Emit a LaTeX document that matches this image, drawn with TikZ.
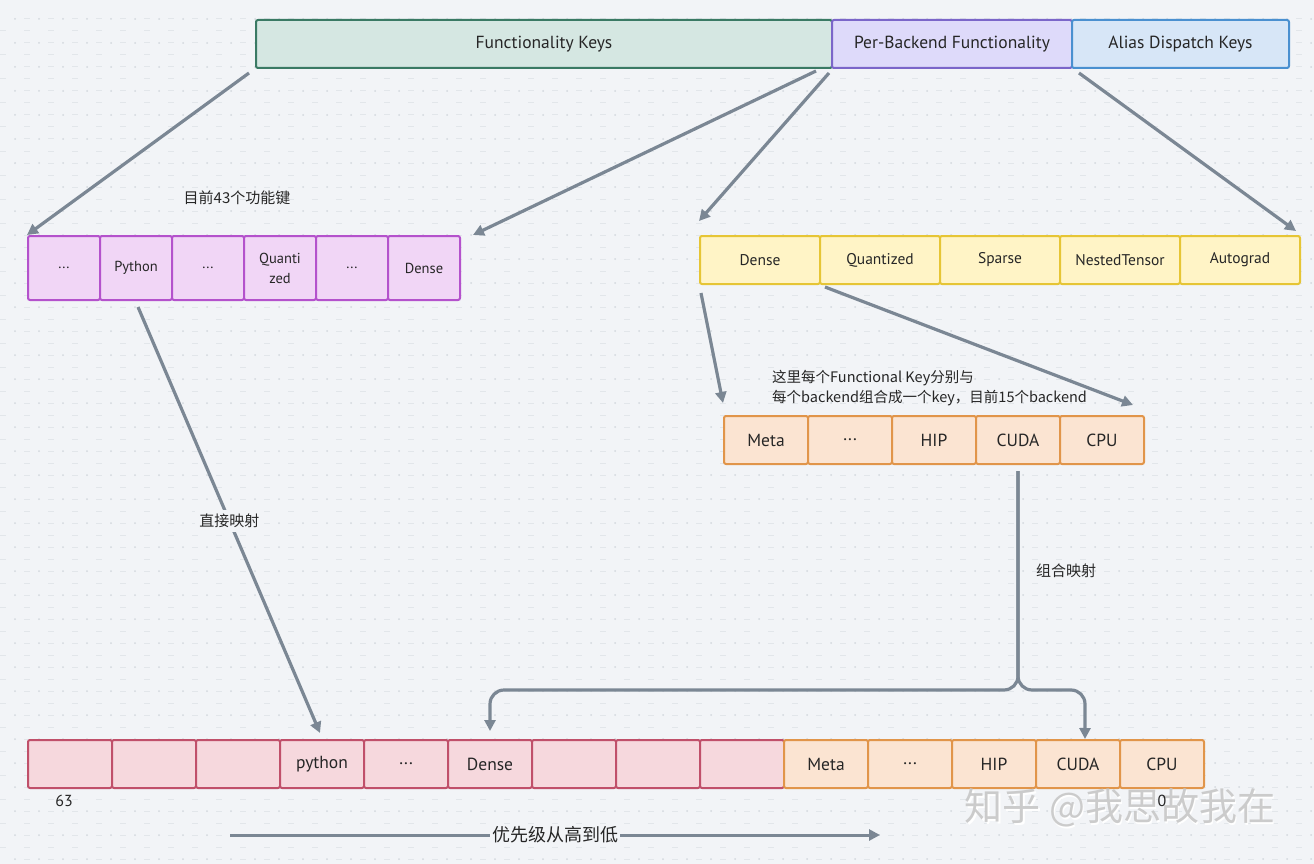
\documentclass[tikz,border=0pt]{standalone}
\usepackage{fontspec}
\setmainfont{PT Sans}
\newfontfamily\cjk{Noto Sans CJK SC}
\usetikzlibrary{arrows.meta,calc}
\definecolor{bgc}{HTML}{F2F4F7}
\definecolor{dotc}{HTML}{D3D8DE}
\definecolor{dotf}{HTML}{E2E6EA}
\definecolor{arrc}{HTML}{7B8794}
\definecolor{txt}{HTML}{262626}
\definecolor{gfill}{HTML}{D5E7E2}\definecolor{gdraw}{HTML}{3A7A64}
\definecolor{pufill}{HTML}{DEDAFA}\definecolor{pudraw}{HTML}{7B66C9}
\definecolor{blfill}{HTML}{D7E6F7}\definecolor{bldraw}{HTML}{4A90D0}
\definecolor{mgfill}{HTML}{F1D6F6}\definecolor{mgdraw}{HTML}{B452CC}
\definecolor{yefill}{HTML}{FFF4C6}\definecolor{yedraw}{HTML}{E6C535}
\definecolor{orfill}{HTML}{FBE4D2}\definecolor{ordraw}{HTML}{E1954A}
\definecolor{pkfill}{HTML}{F6D8DD}\definecolor{pkdraw}{HTML}{C0506A}
\tikzset{
  cell/.style={draw, line width=2pt, rounded corners=2pt, inner sep=0pt, text=txt, align=center},
  topbox/.style={cell, minimum height=48pt, font=\fontsize{17.5}{19}\selectfont},
  mgcell/.style={cell, fill=mgfill, draw=mgdraw, minimum width=72pt, minimum height=64pt, font=\fontsize{14.5}{20}\selectfont},
  yecell/.style={cell, fill=yefill, draw=yedraw, minimum width=120pt, minimum height=48pt, font=\fontsize{15.5}{17}\selectfont},
  orcell/.style={cell, fill=orfill, draw=ordraw, minimum width=84pt, minimum height=48pt, font=\fontsize{17.5}{19}\selectfont},
  pkcell/.style={cell, fill=pkfill, draw=pkdraw, minimum width=84pt, minimum height=48pt, font=\fontsize{17.5}{19}\selectfont},
  arr/.style={draw=arrc, line width=3.2pt, -{Triangle[length=11pt,width=11pt]}},
  lbl/.style={text=txt, font=\cjk\fontsize{15}{20}\selectfont, inner sep=1pt},
}
\begin{document}
\begin{tikzpicture}[x=1pt,y=-1pt]
\fill[bgc] (0,0) rectangle (1314,864);
\useasboundingbox (0,0) rectangle (1314,864);
% dotted background
\foreach \y in {19,43,...,864}{
  \draw[dotc, line width=2pt, line cap=round, dash pattern=on 0pt off 24pt] (15,\y) -- (1314,\y);
  \draw[dotf, line width=1pt, dash pattern=on 6pt off 18pt] (24,\y) -- (1314,\y);
}
\foreach \y in {31,55,...,864}{
  \draw[dotf, line width=1pt, dash pattern=on 6pt off 18pt] (0,\y) -- (1314,\y);
}
% top boxes
\node[topbox, fill=gfill, draw=gdraw, minimum width=576pt] (fk) at (544,44) {Functionality Keys};
\node[topbox, fill=pufill, draw=pudraw, minimum width=240pt] (pb) at (952,44) {Per-Backend Functionality};
\node[topbox, fill=blfill, draw=bldraw, minimum width=217pt] (al) at (1180.5,44) {Alias Dispatch Keys};
% magenta row
\node[mgcell] (p1) at (64,268) {...};
\node[mgcell] (p2) at (136,268) {Python};
\node[mgcell] (p3) at (208,268) {...};
\node[mgcell] (p4) at (280,268) {Quanti\\zed};
\node[mgcell] (p5) at (352,268) {...};
\node[mgcell] (p6) at (424,268) {Dense};
% yellow row
\node[yecell] (y1) at (760,260) {Dense};
\node[yecell] (y2) at (880,260) {Quantized};
\node[yecell] (y3) at (1000,260) {Sparse};
\node[yecell] (y4) at (1120,260) {NestedTensor};
\node[yecell] (y5) at (1240,260) {Autograd};
% orange middle row
\node[orcell] (m1) at (766,440) {Meta};
\node[orcell] (m2) at (850,440) {...};
\node[orcell] (m3) at (934,440) {HIP};
\node[orcell] (m4) at (1018,440) {CUDA};
\node[orcell] (m5) at (1102,440) {CPU};
% bottom row
\node[pkcell] (b1) at (70,764) {};
\node[pkcell] (b2) at (154,764) {};
\node[pkcell] (b3) at (238,764) {};
\node[pkcell] (b4) at (322,764) {python};
\node[pkcell] (b5) at (406,764) {...};
\node[pkcell] (b6) at (490,764) {Dense};
\node[pkcell] (b7) at (574,764) {};
\node[pkcell] (b8) at (658,764) {};
\node[pkcell] (b9) at (742,764) {};
\node[orcell] (b10) at (826,764) {Meta};
\node[orcell] (b11) at (910,764) {...};
\node[orcell] (b12) at (994,764) {HIP};
\node[orcell] (b13) at (1078,764) {CUDA};
\node[orcell] (b14) at (1162,764) {CPU};
% labels
\node[lbl] (l43) at (237,198) {目前43个功能键};
\node[lbl, anchor=west, align=left, font=\cjk\fontsize{14.5}{20}\selectfont] (lcomb) at (771,388) {这里每个Functional Key分别与\\每个backend组合成一个key，目前15个backend};
\node[lbl] (lzh) at (1066,571) {组合映射};
\node[text=txt, font=\fontsize{16}{18}\selectfont] (n63) at (64,801) {63};
% watermark
\node[text=white, font=\cjk\fontsize{38}{40}\selectfont] (wm2) at (1121.5,809.5) {知乎 @我思故我在};
\node[text=black!22, font=\cjk\fontsize{38}{40}\selectfont, opacity=0.9] (wm) at (1120,808) {知乎 @我思故我在};
\node[text=txt, font=\fontsize{16}{18}\selectfont] (n0) at (1162,801) {0};
% arrows
\draw[arr] ([xshift=-6pt,yshift=-4pt]fk.south west) -- (p1.north west);
\draw[arr] ([xshift=-17pt,yshift=-2pt]fk.south east) -- ([xshift=12pt]p6.north east);
\draw[arr] ([xshift=-4pt,yshift=-4pt]fk.south east) -- ([yshift=14pt]y1.north west);
\draw[arr] ([xshift=6pt,yshift=-4pt]pb.south east) -- ([xshift=-5pt,yshift=4pt]y5.north east);
\draw[arr] ([xshift=2pt,yshift=-8pt]y1.south west) -- ([yshift=12pt]m1.north west);
\draw[arr] ([xshift=6pt,yshift=-2pt]y2.south west) -- ([xshift=-12pt,yshift=10pt]m5.north east);
\draw[arr] ([xshift=2pt,yshift=-6pt]p2.south) -- node[lbl, fill=bgc, inner sep=4pt, pos=0.502] {直接映射} ([xshift=-2pt,yshift=6pt]b4.north);
% combination bracket
\coordinate (jn) at (0,690);
\draw[arr, rounded corners=14pt] ([yshift=-6pt]m4.south) -- (m4.south |- jn) -- (b6.north |- jn) -- ([yshift=8pt]b6.north);
\draw[arr, rounded corners=14pt] ([yshift=-6pt]m4.south) -- (m4.south |- jn) -- ([xshift=7pt]b13.north |- jn) -- ([xshift=7pt]b13.north);
% priority arrow
\coordinate (pl) at (230,835);
\coordinate (pr) at (880,835);
\draw[arr, line width=3pt] (pl) -- node[lbl, fill=bgc, inner sep=2pt, font=\cjk\fontsize{18}{20}\selectfont, pos=0.5] {优先级从高到低} (pr);
\end{tikzpicture}
\end{document}
